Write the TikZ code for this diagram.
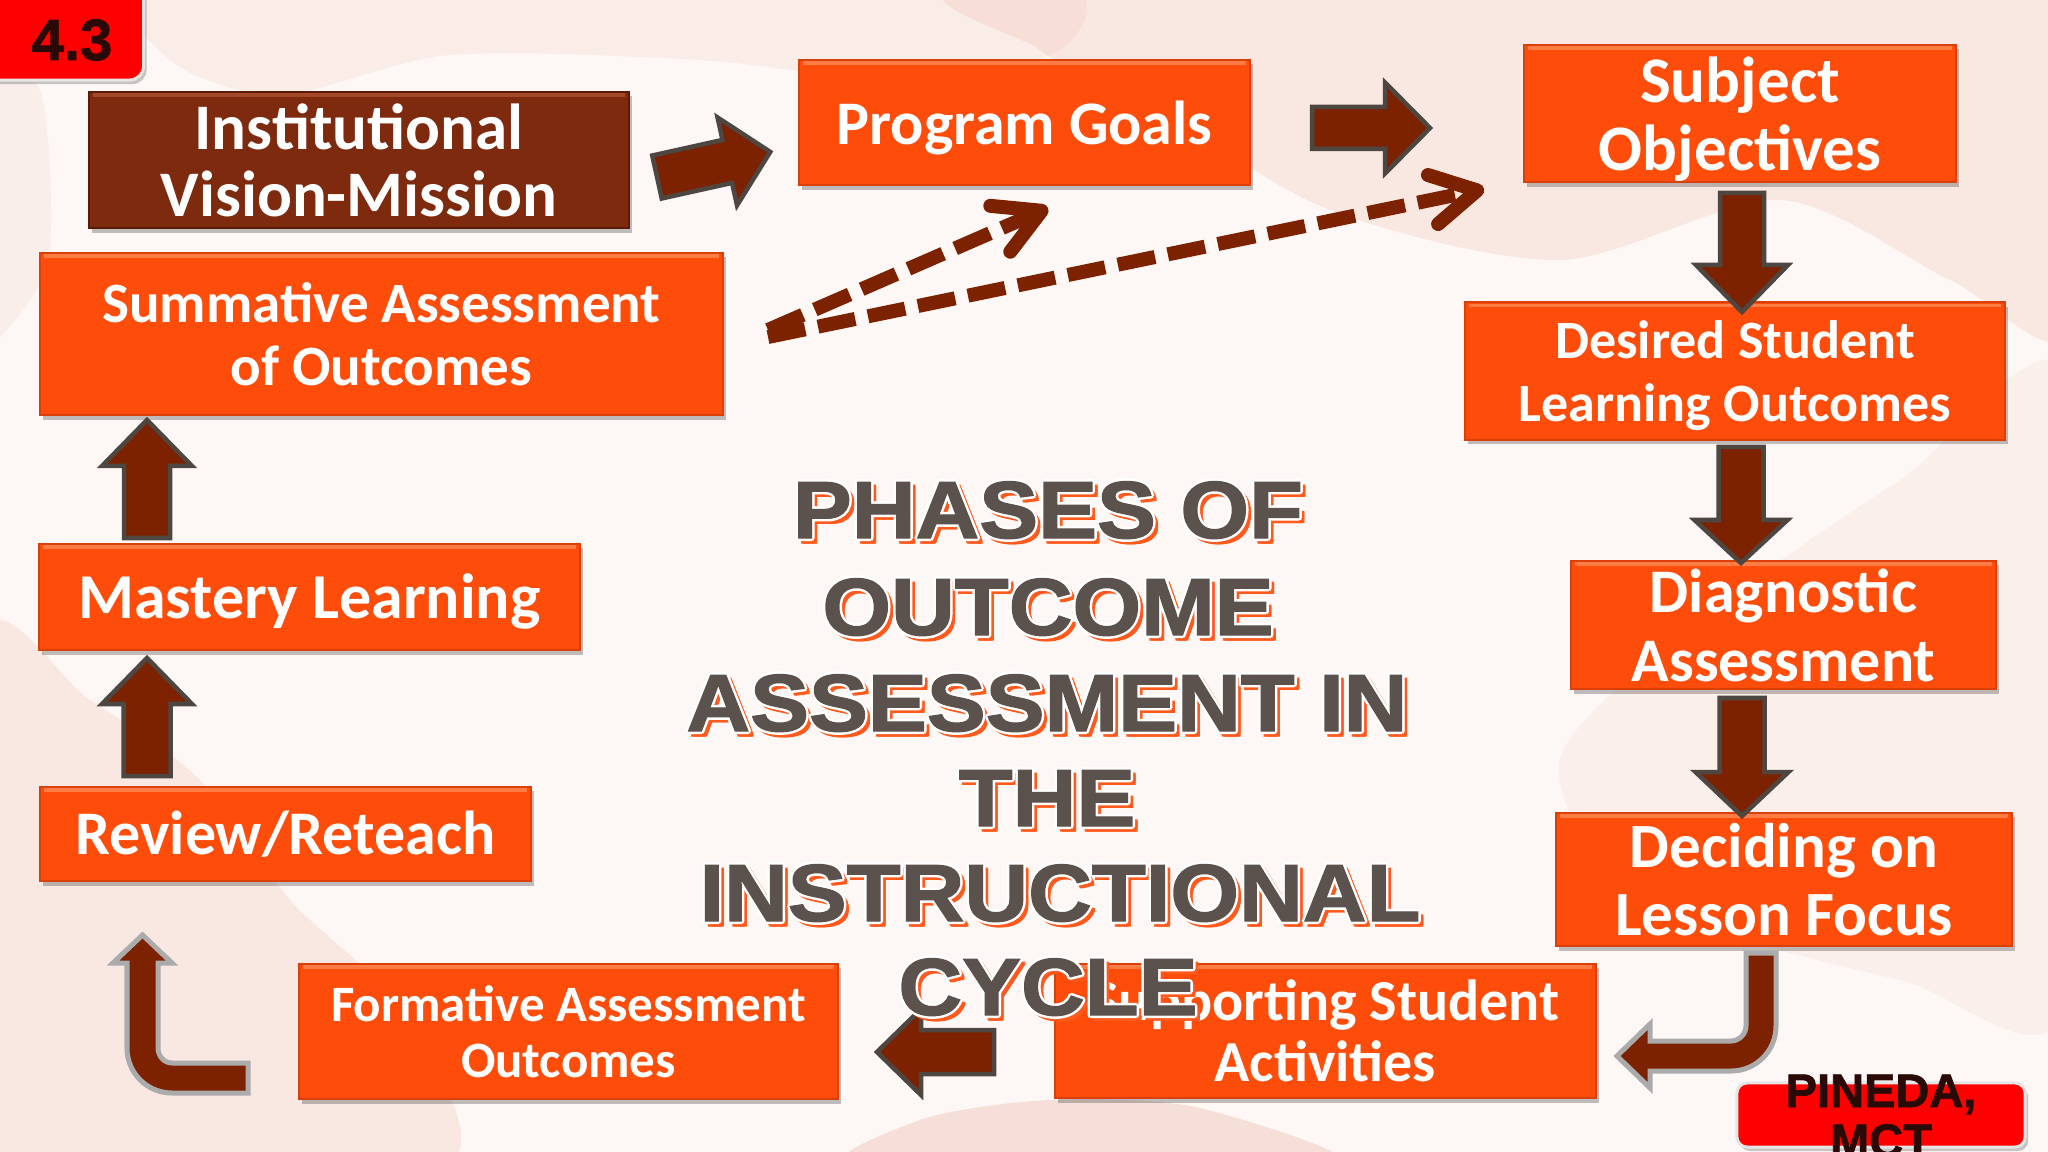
\documentclass[tikz,border=0pt]{standalone}
\usepackage{fontspec}
\usepackage{graphicx}
\setmainfont{Carlito}
\newfontfamily\arialf{Liberation Sans}[BoldFeatures={FakeBold=1.5}]
\usetikzlibrary{arrows.meta,shadows}
\newlength\pxu \setlength\pxu{0.01cm}
\newcommand\fsz[2]{\fontsize{#1\pxu}{#2\pxu}\selectfont}
\definecolor{bgc}{HTML}{FDF8F6}
\definecolor{boxor}{HTML}{FE4C0A}
\definecolor{boxedge}{HTML}{D9400A}
\definecolor{boxhi}{HTML}{FF7C45}
\definecolor{maroonbox}{HTML}{7E2A0E}
\definecolor{maroonedge}{HTML}{5A1C08}
\definecolor{maroonhi}{HTML}{A5482A}
\definecolor{arrfill}{HTML}{7C2200}
\definecolor{arredge}{HTML}{4E4641}
\definecolor{bentedge}{HTML}{ABABAB}
\definecolor{tgray}{HTML}{5C524D}
\definecolor{tshad}{HTML}{FF5A1E}
\definecolor{tagred}{HTML}{FF0000}
\definecolor{tagtext}{HTML}{2A0A06}
\definecolor{blobpink}{HTML}{F2C9BC}
\definecolor{blobsalmon}{HTML}{E9A896}
\newcommand\tcp[4]{\rlap{\kern#1\raisebox{#2}{\scalebox{1.09}[1]{\color{#3}#4}}}}
\newcommand\ttl[1]{\leavevmode
 \tcp{0.05cm}{-0.05cm}{tshad}{#1}\tcp{0.05cm}{-0.03cm}{tshad}{#1}\tcp{0.03cm}{-0.05cm}{tshad}{#1}%
 \tcp{0.025cm}{0cm}{white}{#1}\tcp{-0.025cm}{0cm}{white}{#1}\tcp{0cm}{0.025cm}{white}{#1}\tcp{0cm}{-0.025cm}{white}{#1}%
 \tcp{0.018cm}{0.018cm}{white}{#1}\tcp{-0.018cm}{0.018cm}{white}{#1}\tcp{0.018cm}{-0.018cm}{white}{#1}\tcp{-0.018cm}{-0.018cm}{white}{#1}%
 \scalebox{1.09}[1]{\color{tgray}#1}}
\newcommand\blockarrow[6]{%
 \begin{scope}[shift={#1}, rotate=#2]
 \draw[barrow] (0,{-#4/2}) -- ({#3-#6},{-#4/2}) -- ({#3-#6},{-#5/2}) -- (#3,0) -- ({#3-#6},{#5/2}) -- ({#3-#6},{#4/2}) -- (0,{#4/2}) -- cycle;
 \end{scope}}
\tikzset{
 obox/.style={rectangle, fill=boxor, draw=boxedge, line width=0.02cm, inner sep=0, align=center, text=white,
   drop shadow={shadow xshift=0.03cm, shadow yshift=-0.045cm, opacity=0.35, fill=black!70},
   path picture={\draw[boxhi, line width=0.035cm] ([xshift=0.04cm,yshift=-0.03cm]path picture bounding box.north west) -- ([xshift=-0.04cm,yshift=-0.03cm]path picture bounding box.north east);}},
 mbox/.style={obox, fill=maroonbox, draw=maroonedge,
   path picture={\draw[maroonhi, line width=0.035cm] ([xshift=0.04cm,yshift=-0.03cm]path picture bounding box.north west) -- ([xshift=-0.04cm,yshift=-0.03cm]path picture bounding box.north east);}},
 tsz/.style 2 args={font=\bfseries\fsz{#1}{#2}},
 barrow/.style={fill=arrfill, draw=arredge, line width=0.045cm, line join=miter},
 bentarrow/.style={fill=arrfill, draw=bentedge, line width=0.05cm, line join=miter},
 dasharrow/.style={draw=arrfill, line width=0.14cm, dash pattern=on 0.38cm off 0.13cm,
   -{Straight Barb[length=0.45cm, width=0.5cm, round]}},
 ttlnode/.style={inner sep=0, anchor=base, font=\arialf\bfseries\fsz{81}{95}},
 tag/.style={fill=tagred, draw=white!80!gray, line width=0.03cm, inner sep=0,
   drop shadow={shadow xshift=0.03cm, shadow yshift=-0.04cm, opacity=0.3, fill=black!70}},
 tagtxt/.style={inner sep=0, text=tagtext, font=\arialf\bfseries}
}
\begin{document}
\begin{tikzpicture}[x=0.01cm, y=-0.01cm]
\useasboundingbox (0,0) rectangle (2048,1152);
% background
\fill[bgc] (0,0) rectangle (2048,1152);
\fill[blobpink, opacity=0.25] plot[smooth cycle] coordinates {(150,-20) (600,-20) (1050,-20) (1060,50) (900,80) (700,60) (450,55) (280,95) (170,60)};
\fill[blobpink, opacity=0.35] plot[smooth cycle] coordinates {(1000,-20) (2070,-20) (2070,330) (1950,280) (1780,200) (1560,260) (1330,210) (1160,110) (1040,50)};
\fill[blobpink, opacity=0.18] plot[smooth cycle] coordinates {(2070,380) (1900,480) (1700,620) (1560,760) (1640,900) (1900,980) (2070,1000)};
\fill[blobpink, opacity=0.35] plot[smooth cycle] coordinates {(-20,640) (90,700) (200,780) (290,900) (400,1010) (440,1170) (-20,1170)};
\fill[blobpink, opacity=0.2] plot[smooth cycle] coordinates {(-20,80) (40,90) (50,250) (15,320) (-20,330)};
\fill[blobsalmon, opacity=0.3] plot[smooth cycle] coordinates {(860,1170) (920,1120) (1050,1100) (1200,1108) (1340,1170)};
% boxes
\node[mbox, minimum width=5.40cm, minimum height=1.36cm, tsz={65}{67}] (inst) at (359,160) {Institutional\\Vision-Mission};
\node[obox, minimum width=4.51cm, minimum height=1.25cm, tsz={62}{66}] (prog) at (1024.5,122.5) {};
\node[inner sep=0, text=white, tsz={62}{66}] (progt) at (1024.5,128) {Program Goals};
\node[obox, minimum width=4.32cm, minimum height=1.37cm] (subj) at (1740,113.5) {};
\node[inner sep=0, text=white, align=center, tsz={65}{68}] (subjt) at (1740,119) {Subject\\Objectives};
\node[obox, minimum width=6.83cm, minimum height=1.62cm, tsz={57}{63}] (summ) at (381.5,334) {Summative Assessment\\of Outcomes};
\node[obox, minimum width=5.40cm, minimum height=1.37cm] (des) at (1735,371) {};
\node[inner sep=0, text=white, align=center, tsz={54}{63}] (dest) at (1735,376) {Desired Student\\Learning Outcomes};
\node[obox, minimum width=5.41cm, minimum height=1.06cm] (mast) at (309.5,597) {};
\node[inner sep=0, text=white, tsz={64}{66}] (mastt) at (309.5,601) {Mastery Learning};
\node[obox, minimum width=4.25cm, minimum height=1.28cm, tsz={62}{69}] (diag) at (1783.5,625) {Diagnostic\\Assessment};
\node[obox, minimum width=4.91cm, minimum height=0.94cm, tsz={62}{66}] (rev) at (285.5,834) {Review/Reteach};
\node[obox, minimum width=4.56cm, minimum height=1.33cm, tsz={63}{68}] (decid) at (1784,879.5) {Deciding on\\Lesson Focus};
\node[obox, minimum width=5.39cm, minimum height=1.35cm, tsz={51}{56}] (form) at (568.5,1031.5) {Formative Assessment\\Outcomes};
\node[obox, minimum width=5.41cm, minimum height=1.34cm, tsz={58}{61}] (supp) at (1325.5,1031) {Supporting Student\\Activities};
% block arrows
\blockarrow{(657,177)}{12.5}{116}{44}{90}{44}
\blockarrow{(1312,128)}{0}{118}{42}{91}{45}
\blockarrow{(1742,193)}{-90}{119}{44}{92}{47}
\blockarrow{(1741,447)}{-90}{116}{45}{93}{43}
\blockarrow{(1742,698)}{-90}{118}{45}{93}{44}
\blockarrow{(994,1052)}{180}{117}{44}{86}{44}
\blockarrow{(147,776)}{90}{118}{47}{90}{46}
\blockarrow{(147,538)}{90}{118}{46}{90}{46}
% bent arrows
\draw[bentarrow] (1746,953) -- (1776,953) -- (1776,1026) .. controls (1776,1051) and (1756,1071) .. (1731,1071) -- (1650,1071) -- (1650,1088) -- (1617,1056) -- (1650,1024) -- (1650,1041) -- (1731,1041) .. controls (1739,1041) and (1746,1034) .. (1746,1026) -- cycle;
\draw[bentarrow] (248,1063) -- (248,1093) -- (172,1093) .. controls (147,1093) and (127,1073) .. (127,1048) -- (127,963) -- (113,963) -- (142.5,935) -- (172,963) -- (158,963) -- (158,1048) .. controls (158,1056) and (164,1063) .. (172,1063) -- cycle;
% dashed arrows
\coordinate (ds1) at (768,330);
\coordinate (de1) at (1048,208);
\coordinate (ds2) at (768,337);
\coordinate (de2) at (1484,189);
\draw[dasharrow] (ds1) -- (de1);
\draw[dasharrow] (ds2) -- (de2);
% title
\node[ttlnode] (t1) at (1048,538) {\ttl{PHASES OF}};
\node[ttlnode] (t2) at (1048,635) {\ttl{OUTCOME}};
\node[ttlnode] (t3) at (1047,731) {\ttl{ASSESSMENT IN}};
\node[ttlnode] (t4) at (1047,826) {\ttl{THE}};
\node[ttlnode] (t5) at (1060,921) {\ttl{INSTRUCTIONAL}};
\node[ttlnode] (t6) at (1048,1015) {\ttl{CYCLE}};
% tags
\node[tag, rounded corners=0.14cm, minimum width=1.63cm, minimum height=1.0cm] (tag) at (62,30) {};
\node[tagtxt, font=\arialf\bfseries\fsz{58}{60}] (tagt) at (72,40) {4.3};
\node[tag, rounded corners=0.1cm, minimum width=2.88cm, minimum height=0.64cm] (pin) at (1881,1115) {};
\node[tagtxt, anchor=base, font=\arialf\bfseries\fsz{47}{50}] (pin1) at (1881,1107) {PINEDA,};
\node[tagtxt, anchor=base, font=\arialf\bfseries\fsz{47}{50}] (pin2) at (1881,1157) {MCT};
\end{tikzpicture}
\end{document}
